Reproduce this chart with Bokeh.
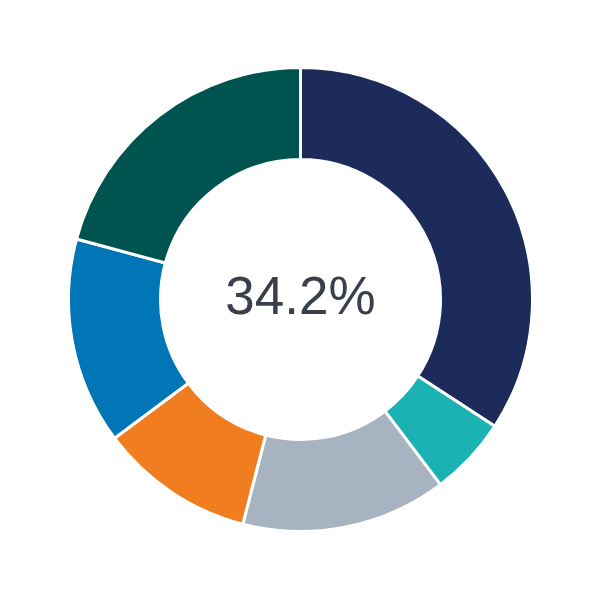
import math
from bokeh.plotting import figure
from bokeh.models import ColumnDataSource
from bokeh.core.properties import value
from bokeh.embed import file_html
from bokeh.resources import INLINE

categories = ["A", "B", "C", "D", "E", "F"]
shares = [34.2, 5.5, 14.3, 10.8, 14.4, 20.8]
colors = ["#1c2b5a", "#1bb2b4", "#a8b3c1", "#f07e20", "#0076b6", "#005450"]
center_label = "34.2%"

total = sum(shares)
starts, ends = [], []
cum = 0.0
for s in shares:
    t1 = cum / total * 2 * math.pi
    cum += s
    t2 = cum / total * 2 * math.pi
    # clockwise from 12 o'clock -> bokeh anticlockwise from +x
    starts.append(math.pi / 2 - t2)
    ends.append(math.pi / 2 - t1)

src = ColumnDataSource(dict(cat=categories, share=shares, color=colors,
                            start=starts, end=ends))

p = figure(width=584, height=584, output_backend="svg", toolbar_location=None,
           x_range=(-300, 284), y_range=(-285, 299), min_border=0)
p.axis.visible = False
p.grid.visible = False
p.outline_line_color = None
p.background_fill_color = "white"
p.border_fill_color = "white"

p.annular_wedge(x=0, y=0, inner_radius=140, outer_radius=232,
                start_angle="start", end_angle="end", direction="anticlock",
                fill_color="color", line_color="white", line_width=3,
                source=src)

p.text(x=[0], y=[4], text=[center_label], text_align="center",
       text_baseline="middle", text_font=value("Liberation Sans"),
       text_font_size="53px", text_color="#3a4049")

open("out.html", "w").write(file_html(p, INLINE))
